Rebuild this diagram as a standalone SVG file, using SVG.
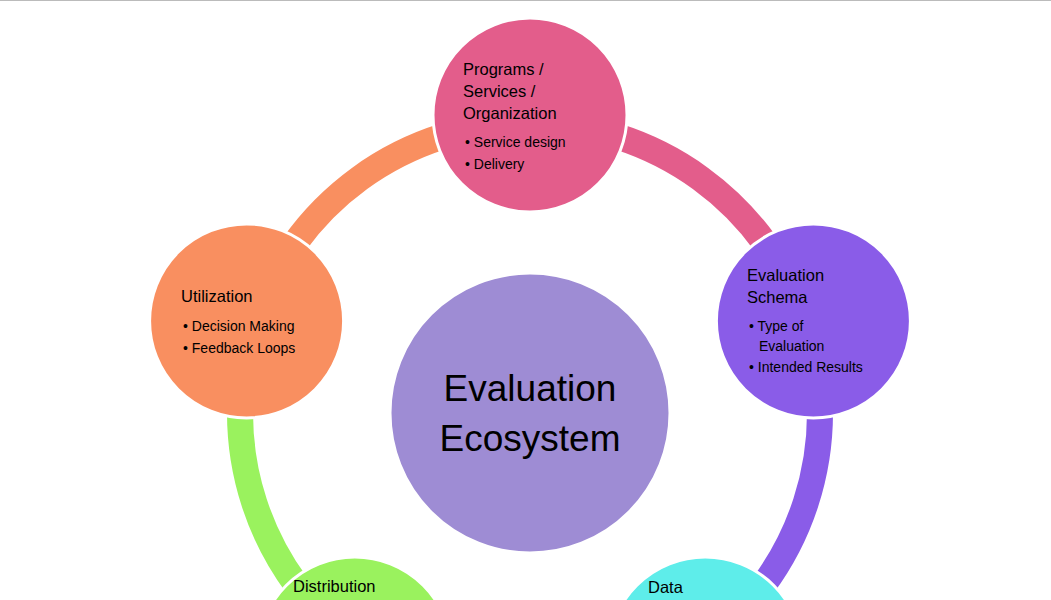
<svg xmlns="http://www.w3.org/2000/svg" width="1051" height="600" viewBox="0 0 1051 600">
<style>
.arc{fill:none;stroke-width:26}
.node{stroke:#fff;stroke-width:3}
text{font-family:"Liberation Sans",Arial,sans-serif;fill:#000}
.h{font-size:16.5px}
.b{font-size:14px}
.c{font-size:37px}
</style>
<rect width="1051" height="600" fill="#fff"/>
<line x1="0" y1="0.5" x2="1051" y2="0.5" stroke="#bbb"/>
<g id="connectors">
<path class="arc" stroke="#E35D8B" d="M530,123 A290,290 0 0 1 805.8,323.4"/>
<path class="arc" stroke="#8A5CE8" d="M805.8,323.4 A290,290 0 0 1 700.5,647.6"/>
<path class="arc" stroke="#5EEDEA" d="M700.5,647.6 A290,290 0 0 1 359.5,647.6"/>
<path class="arc" stroke="#9AF25E" d="M359.5,647.6 A290,290 0 0 1 254.2,323.4"/>
<path class="arc" stroke="#F98F60" d="M254.2,323.4 A290,290 0 0 1 530,123"/>
</g>
<g id="center">
<circle class="node" cx="530" cy="413" r="140" fill="#9E8CD4"/>
<text class="c" x="530" y="401" text-anchor="middle">Evaluation</text>
<text class="c" x="530" y="451" text-anchor="middle">Ecosystem</text>
</g>
<g id="programs">
<circle class="node" cx="530" cy="115" r="97" fill="#E35D8B"/>
<text class="h" x="463" y="75">Programs /</text>
<text class="h" x="463" y="97">Services /</text>
<text class="h" x="463" y="119">Organization</text>
<text class="b" x="465" y="147">• Service design</text>
<text class="b" x="465" y="169">• Delivery</text>
</g>
<g id="schema">
<circle class="node" cx="813.4" cy="320.9" r="97" fill="#8A5CE8"/>
<text class="h" x="747" y="281">Evaluation</text>
<text class="h" x="747" y="303">Schema</text>
<text class="b" x="749" y="331">• Type of</text>
<text class="b" x="759" y="351">Evaluation</text>
<text class="b" x="749" y="372">• Intended Results</text>
</g>
<g id="data">
<circle class="node" cx="705.2" cy="654.1" r="97" fill="#5EEDEA"/>
<text class="h" x="648" y="593">Data</text>
</g>
<g id="distribution">
<circle class="node" cx="354.8" cy="654.1" r="97" fill="#9AF25E"/>
<text class="h" x="293" y="592">Distribution</text>
</g>
<g id="utilization">
<circle class="node" cx="246.6" cy="320.9" r="97" fill="#F98F60"/>
<text class="h" x="181" y="302">Utilization</text>
<text class="b" x="183" y="331">• Decision Making</text>
<text class="b" x="183" y="353">• Feedback Loops</text>
</g>
</svg>
